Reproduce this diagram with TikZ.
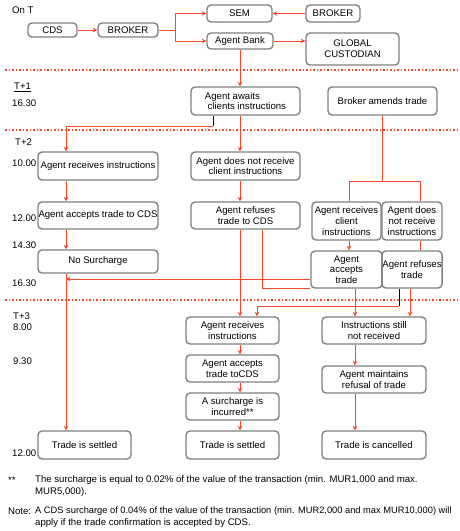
\documentclass[tikz,border=0pt]{standalone}
\usepackage{fontspec}
\setmainfont{Liberation Sans}
\usetikzlibrary{arrows.meta}
\definecolor{lred}{HTML}{F04A28}
\definecolor{bgray}{HTML}{808080}
\begin{document}
\begin{tikzpicture}[x=1pt,y=-1pt, font=\fontsize{9.6}{10.7}\selectfont,
 box/.style={draw=bgray, line width=1.4pt, rounded corners=4pt, inner sep=0.5pt, align=center},
 con/.style={draw=lred, line width=0.9pt},
 arr/.style={con, -{Stealth[length=4.5pt,width=4.5pt]}},
 blk/.style={draw=black, line width=0.9pt},
 sep/.style={draw=lred, line width=1.5pt, dotted},
 lab/.style={anchor=west, inner sep=0pt}]
\useasboundingbox (0,0) rectangle (460,531);
% separators
\draw[sep] (5,70) -- (458,70);
\draw[sep] (5,130) -- (458,130);
\draw[sep] (5,300) -- (458,300);
% time labels
\node[lab] (lOnT) at (12,10) {On T};
\node[lab] (lT1) at (14,87) {\underline{T+1}};
\node[lab] (l1630a) at (12,103) {16.30};
\node[lab] (lT2) at (15,142) {T+2};
\node[lab] (l1000) at (12,163) {10.00};
\node[lab] (l1200a) at (12,218) {12.00};
\node[lab] (l1430) at (12,245) {14.30};
\node[lab] (l1630b) at (12,283) {16.30};
\node[lab] (lT3) at (13,316) {T+3};
\node[lab] (l800) at (13,327) {8.00};
\node[lab] (l930) at (13,361) {9.30};
\node[lab] (l1200b) at (12,453) {12.00};
% boxes
\node[box, minimum width=49pt, minimum height=14pt] (cds) at (52.5,30) {CDS};
\node[box, minimum width=60pt, minimum height=14pt] (broker1) at (128,30) {BROKER};
\node[box, minimum width=65pt, minimum height=17pt] (sem) at (239.5,13.5) {SEM};
\node[box, minimum width=54pt, minimum height=17pt] (broker2) at (333,13.5) {BROKER};
\node[box, minimum width=66pt, minimum height=16pt] (agentbank) at (240,41) {Agent Bank};
\node[box, minimum width=93pt, minimum height=32pt] (global) at (352.5,49) {GLOBAL\\CUSTODIAN};
\node[box, minimum width=109pt, minimum height=28pt, align=left] (awaits) at (245.5,101) {Agent awaits\\\ clients instructions};
\node[box, minimum width=109pt, minimum height=28pt] (amends) at (382.5,101) {Broker amends trade};
\node[box, minimum width=120pt, minimum height=28pt] (recv) at (98,166) {Agent receives instructions};
\node[box, minimum width=109pt, minimum height=28pt] (notrecv) at (245.5,166) {Agent does not receive\\client instructions};
\node[box, minimum width=120pt, minimum height=27pt] (accepts) at (98,215.5) {Agent accepts trade to CDS};
\node[box, minimum width=109pt, minimum height=27pt] (refuses) at (245.5,215.5) {Agent refuses\\trade to CDS};
\node[box, minimum width=69pt, minimum height=38pt] (recvclient) at (346.5,221) {Agent receives\\client\\instructions};
\node[box, minimum width=60pt, minimum height=38pt] (notrecvinstr) at (412,221) {Agent does\\not receive\\instructions};
\node[box, minimum width=120pt, minimum height=23pt] (nosurch) at (98,261.5) {No Surcharge};
\node[box, minimum width=71pt, minimum height=37pt] (acctrade) at (346.5,269.5) {Agent\\accepts\\trade};
\node[box, minimum width=60pt, minimum height=37pt] (reftrade) at (412,269.5) {Agent refuses\\trade};
\node[box, minimum width=93pt, minimum height=27pt] (t3recv) at (232.5,330.5) {Agent receives\\instructions};
\node[box, minimum width=104pt, minimum height=27pt] (still) at (374,330.5) {Instructions still\\not received};
\node[box, minimum width=93pt, minimum height=27pt] (t3acc) at (232.5,368.5) {Agent accepts\\trade toCDS};
\node[box, minimum width=104pt, minimum height=27pt] (maintains) at (374,379.5) {Agent maintains\\refusal of trade};
\node[box, minimum width=93pt, minimum height=27pt] (surch) at (232.5,406.5) {A surcharge is\\incurred**};
\node[box, minimum width=93pt, minimum height=28pt] (settled1) at (84.5,445) {Trade is settled};
\node[box, minimum width=93pt, minimum height=28pt] (settled2) at (232.5,445) {Trade is settled};
\node[box, minimum width=104pt, minimum height=28pt] (cancelled) at (374,445) {Trade is cancelled};
% column / row coordinates
\coordinate (xL) at (66,0);
\coordinate (xM) at (240,0);
\coordinate (xj) at (175,0);
\coordinate (xa) at (213,0);
\coordinate (xr) at (262,0);
\coordinate (xm2) at (257,0);
\coordinate (xc1) at (349,0);
\coordinate (xc2) at (420,0);
\coordinate (xs) at (355,0);
\coordinate (xb) at (399,0);
\coordinate (xt) at (410,0);
\coordinate (y126) at (0,126);
\coordinate (y181) at (0,181);
\coordinate (y279) at (0,279);
\coordinate (y306) at (0,306);
% connectors
\draw[arr] (cds) -- (broker1);
\draw[con] (broker1.east) -- (broker1.east -| xj);
\draw[arr] (broker1.east -| xj) |- (sem);
\draw[arr] (broker1.east -| xj) |- (agentbank);
\draw[arr] (broker2) -- (sem);
\draw[arr] (agentbank.east) -- (agentbank.east -| global.west);
\draw[arr] (agentbank.south) -- (agentbank.south |- awaits.north);
\draw[blk] (awaits.south -| xa) -- (xa |- y126);
\draw[arr] (xa |- y126) -| (recv.north -| xL);
\draw[arr] (awaits.south -| xM) -- (notrecv.north -| xM);
\draw[con] (amends.south) -- (amends.south |- y181);
\draw[con] (xc1 |- recvclient.north) |- (xc2 |- y181) -- (xc2 |- notrecvinstr.north);
\draw[arr] (recv.south -| xL) -- (accepts.north -| xL);
\draw[arr] (accepts.south -| xL) -- (nosurch.north -| xL);
\draw[arr] (nosurch.south -| xL) -- (settled1.north -| xL);
\draw[arr] (notrecv.south -| xM) -- (refuses.north -| xM);
\draw[arr] (refuses.south -| xM) -- (t3recv.north -| xM);
\draw[con] (refuses.south -| xr) |- (acctrade.south west);
\draw[arr] (acctrade.west |- y279) -- (xL |- y279);
\draw[arr] (recvclient.south -| xc1) -- (acctrade.north -| xc1);
\draw[con] (notrecvinstr.south -| xc2) -- (reftrade.north -| xc2);
\draw[arr] (acctrade.south -| xs) -- (still.north -| xs);
\draw[blk] (reftrade.south -| xb) -- (xb |- y306);
\draw[arr] (xb |- y306) -| (t3recv.north -| xm2);
\draw[arr] (reftrade.south -| xt) -- (still.north -| xt);
\draw[arr] (t3recv.south -| xM) -- (t3acc.north -| xM);
\draw[arr] (t3acc.south -| xM) -- (surch.north -| xM);
\draw[arr] (surch.south -| xM) -- (settled2.north -| xM);
\draw[arr] (still.south -| xs) -- (maintains.north -| xs);
\draw[arr] (maintains.south -| xs) -- (cancelled.north -| xs);
% footnotes
\node[lab] (fa) at (8,480) {**};
\node[lab] (fb) at (35,480) {The surcharge is equal to 0.02\% of the value of the transaction (min. MUR1,000 and max.};
\node[lab] (fc) at (35,492) {MUR5,000).};
\node[lab] (na) at (8,511) {Note:};
\node[lab, font=\fontsize{9.3}{10.7}\selectfont] (nb) at (35,511) {A CDS surcharge of 0.04\% of the value of the transaction (min. MUR2,000 and max MUR10,000) will};
\node[lab] (nc) at (35,523) {apply if the trade confirmation is accepted by CDS.};
\end{tikzpicture}
\end{document}
